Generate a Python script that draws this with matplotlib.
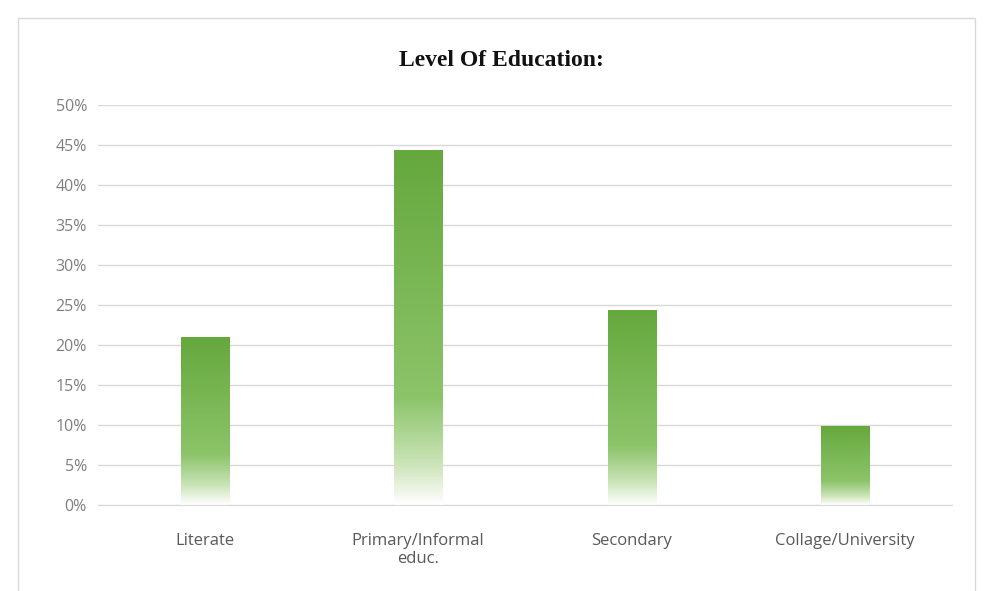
import numpy as np
import matplotlib.pyplot as plt
from matplotlib.colors import LinearSegmentedColormap
from matplotlib.patches import Rectangle

categories = ["Literate", "Primary/Informal\neduc.", "Secondary", "Collage/University"]
values = [21.0, 44.4, 24.4, 9.9]
yticks = [0, 5, 10, 15, 20, 25, 30, 35, 40, 45, 50]

fig = plt.figure(figsize=(10.03, 5.91), dpi=100)
fig.patches.append(Rectangle((18/1003, -0.01), (975-18)/1003, 1-18/591+0.01,
                             transform=fig.transFigure, fill=False, edgecolor="#d9d9d9", lw=1))
ax = fig.add_axes([98/1003, 1-505/591, (952-98)/1003, 400/591])
ax.set_yticks(yticks)
ax.set_yticklabels([f"{t}%" for t in yticks], fontsize=11.5, color="#7f7f7f", family="Open Sans")
ax.set_xticks(range(len(categories)))
ax.set_xticklabels(categories, fontsize=12, color="#595959", family="Open Sans")
ax.tick_params(axis="y", length=0, pad=8)
ax.tick_params(axis="x", length=0, pad=20)
ax.grid(axis="y", color="#d9d9d9", lw=1)
ax.set_axisbelow(True)
for s in ["top", "right", "left"]:
    ax.spines[s].set_visible(False)
ax.spines["bottom"].set_color("#d9d9d9")

cmap = LinearSegmentedColormap.from_list("g", [(0, "#ffffff"), (0.12, "#c9e3b5"), (0.3, "#8cc46a"), (1, "#65a83d")])
grad = np.linspace(0, 1, 256).reshape(-1, 1)
w = 0.225
for i, v in enumerate(values):
    r = Rectangle((i - w/2, 0), w, v, facecolor="none", edgecolor="none")
    ax.add_patch(r)
    im = ax.imshow(grad, extent=(i - w/2, i + w/2, 0, v), origin="lower", cmap=cmap, aspect="auto", zorder=2)
    im.set_clip_path(r)
ax.set_xlim(-0.5, 3.5)
ax.set_ylim(0, 50)

fig.text(0.5, 1-60/591, "Level Of Education:", ha="center", va="center", fontsize=17,
         fontweight="bold", family="Liberation Serif", color="#111111")
fig.savefig("out.png", dpi=100, facecolor="white")
